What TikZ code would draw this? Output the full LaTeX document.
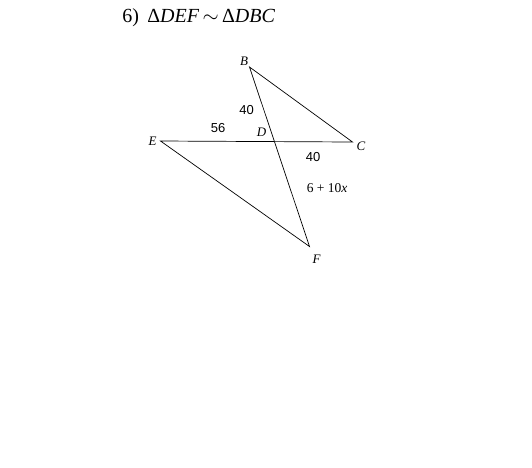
\documentclass[tikz,border=0pt]{standalone}
\usepackage{fontspec}
\setmainfont{Liberation Serif}
\newfontfamily\numfont{Liberation Sans}
\usepackage{tikz}

\begin{document}
\begin{tikzpicture}[x=1pt, y=-1pt, line width=0.7pt,
    vlabel/.style={font=\fontsize{13}{13}\selectfont\itshape, inner sep=0pt},
    slabel/.style={font=\numfont\fontsize{13}{13}\selectfont, inner sep=0pt}]
      \useasboundingbox (0, 0) rectangle (532, 467);
      \node[anchor=west, inner sep=0pt, font=\fontsize{20}{20}\selectfont] (title) at (122, 18) {6)\ \,Δ\textit{DEF}\,$\sim$\,Δ\textit{DBC}};
      \coordinate (B) at (249.5, 67);
      \coordinate (E) at (160.5, 141);
      \coordinate (C) at (352.5, 142);
      \coordinate (F) at (309.5, 246.5);
      \coordinate (D) at (intersection of B--F and E--C);
      \draw (B) -- (F) -- (E) -- (C) -- cycle;
      \node[vlabel] (lB) at (244, 61) {B};
      \node[vlabel] (lE) at (152.5, 141) {E};
      \node[vlabel] (lC) at (361, 146.5) {C};
      \node[vlabel] (lF) at (316.5, 259.5) {F};
      \node[vlabel] (lD) at (261.5, 132) {D};
      \node[slabel] (BD) at (246.5, 110) {40};
      \node[slabel] (ED) at (218, 128.5) {56};
      \node[slabel] (DC) at (313, 157.5) {40};
      \node[font=\fontsize{13.5}{13.5}\selectfont, inner sep=0pt, anchor=west] (DF) at (306.5, 188.5) {6 + 10\textit{x}};
    \end{tikzpicture}
\end{document}
